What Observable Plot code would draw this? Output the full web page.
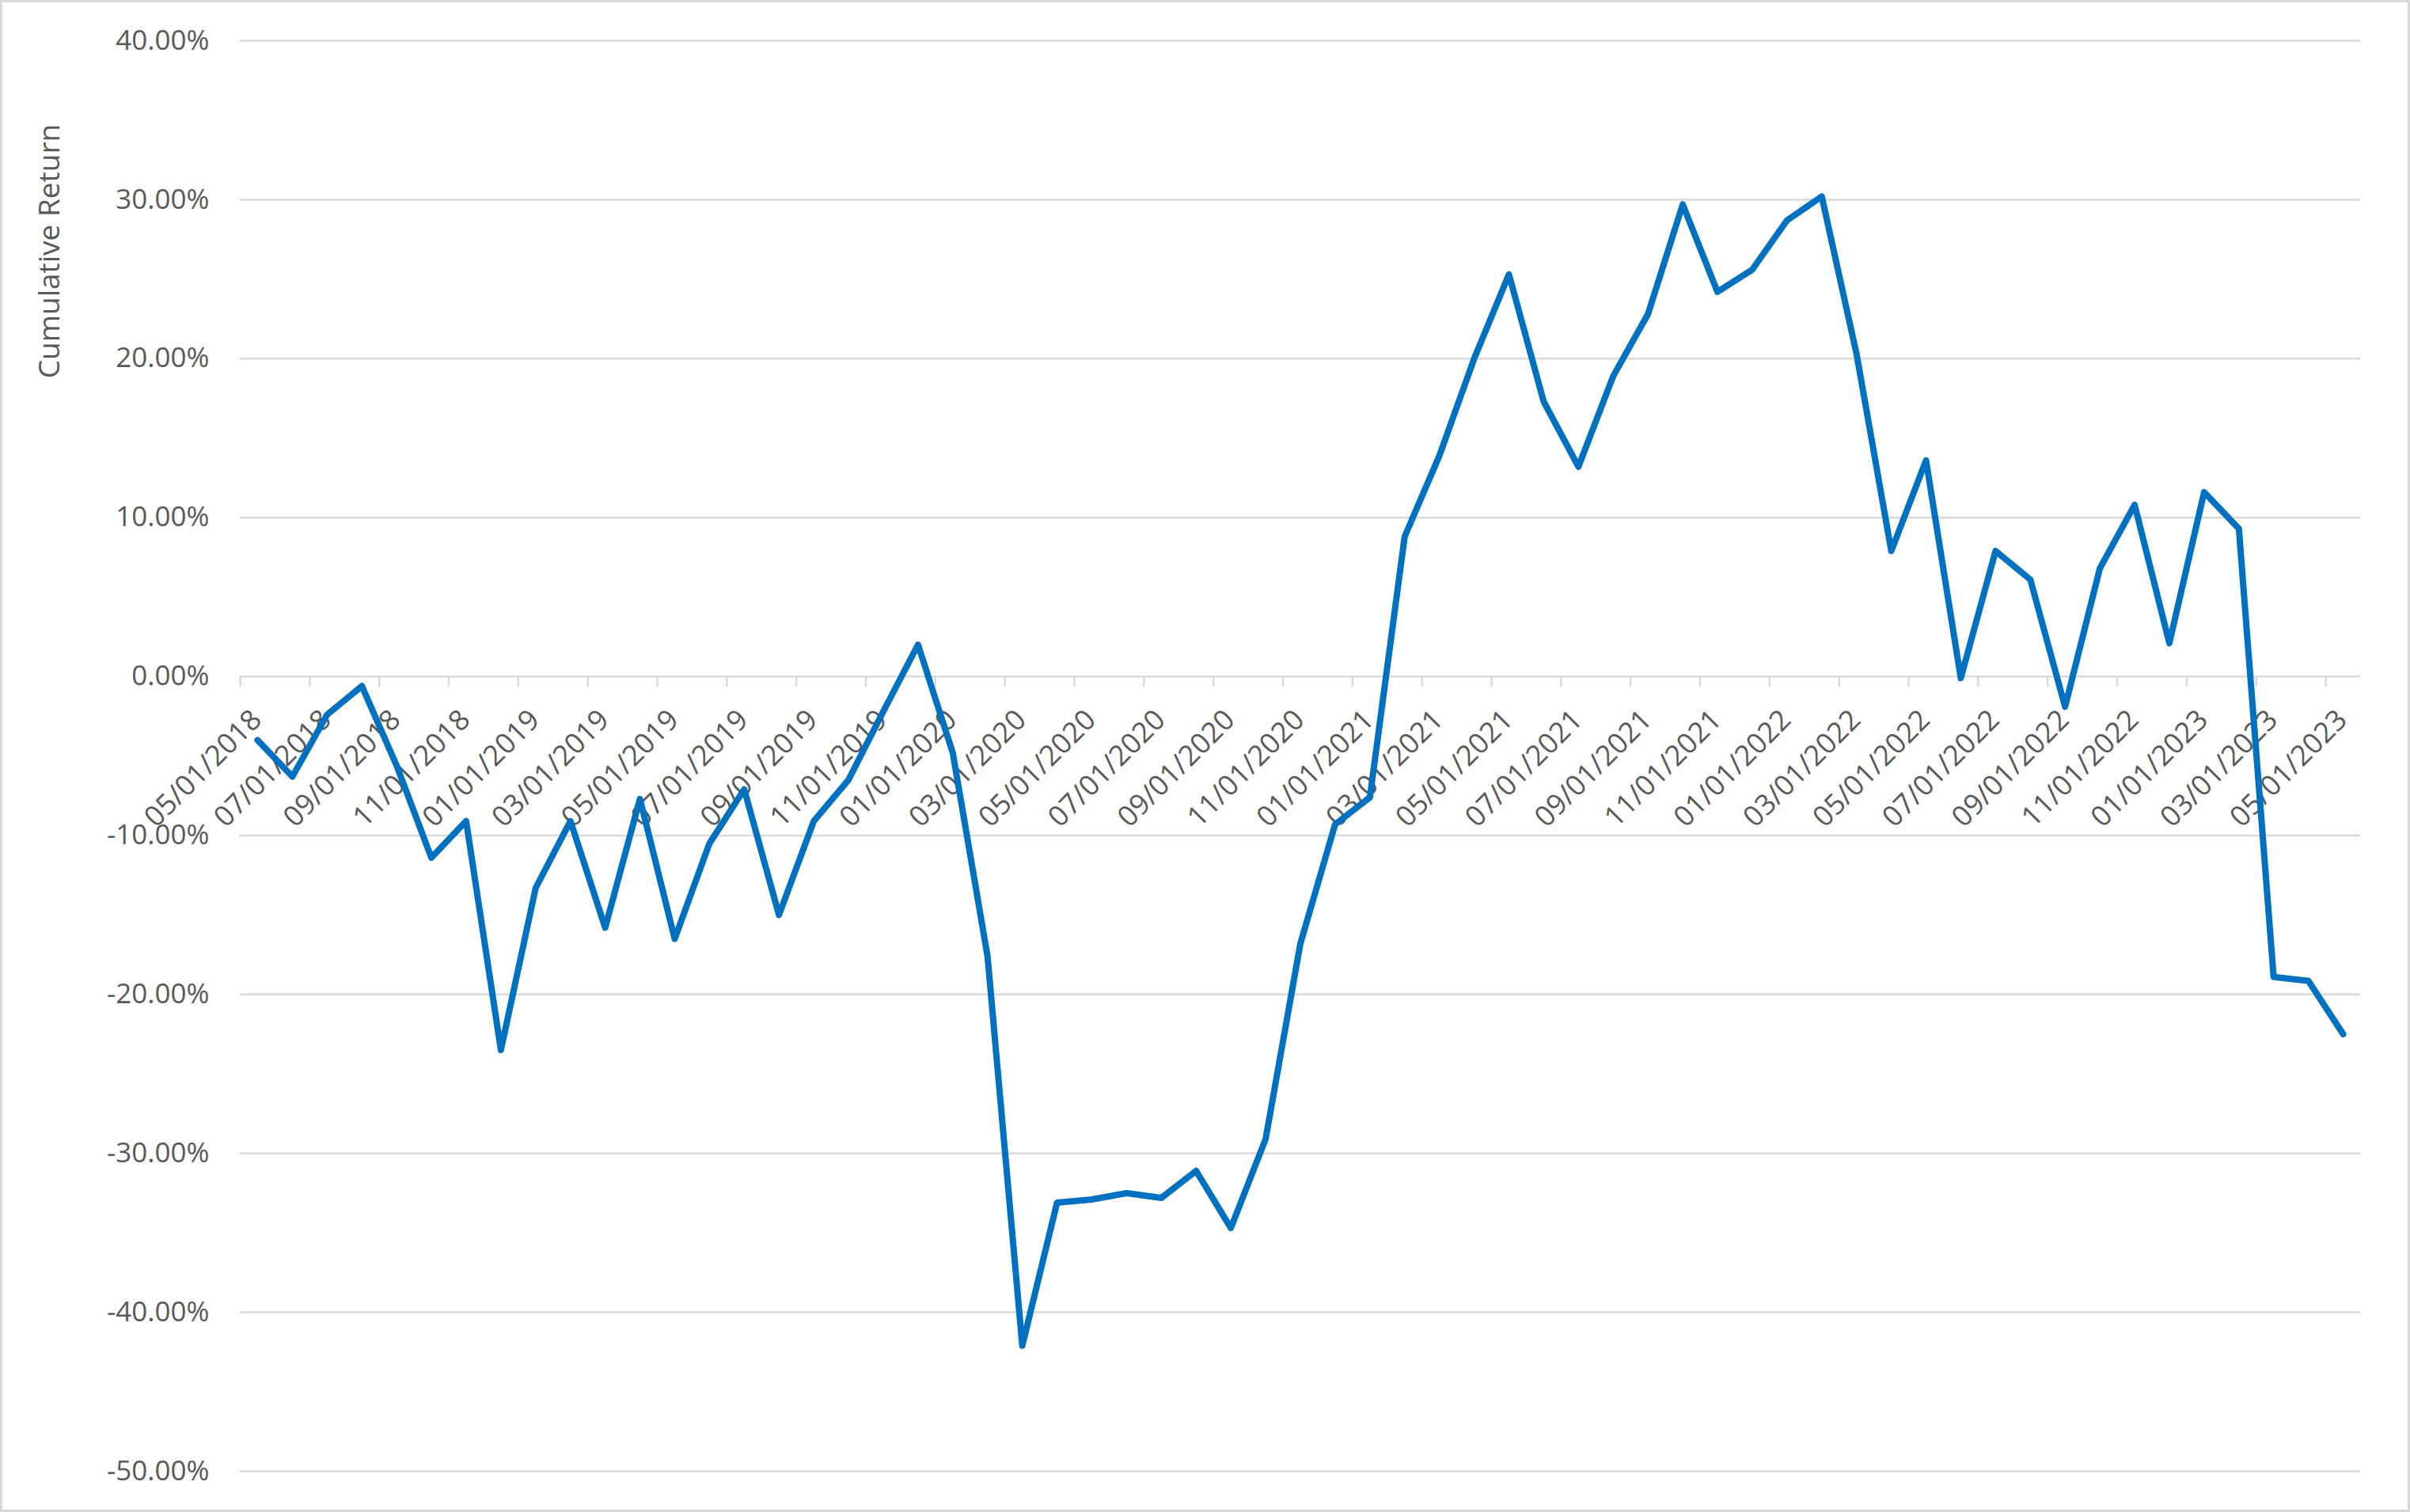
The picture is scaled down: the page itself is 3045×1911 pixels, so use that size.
<!DOCTYPE html>
<html>
<head>
<meta charset="utf-8">
<script src="https://cdn.jsdelivr.net/npm/d3@7"></script>
<script src="https://cdn.jsdelivr.net/npm/@observablehq/plot@0.6"></script>
<style>
  html, body { margin: 0; padding: 0; background: #ffffff; }
  #wrap { position: relative; width: 3045px; height: 1911px; }
  #border { position: absolute; left: 0; top: 0; width: 3045px; height: 1911px; box-sizing: border-box; border: 3px solid #d9d9d9; pointer-events: none; }
</style>
</head>
<body>
<div id="wrap"><div id="chart"></div><div id="border"></div></div>
<script>
// Month labels (categories)
const months = [
  "05/01/2018","06/01/2018","07/01/2018","08/01/2018","09/01/2018","10/01/2018","11/01/2018","12/01/2018",
  "01/01/2019","02/01/2019","03/01/2019","04/01/2019","05/01/2019","06/01/2019","07/01/2019","08/01/2019",
  "09/01/2019","10/01/2019","11/01/2019","12/01/2019",
  "01/01/2020","02/01/2020","03/01/2020","04/01/2020","05/01/2020","06/01/2020","07/01/2020","08/01/2020",
  "09/01/2020","10/01/2020","11/01/2020","12/01/2020",
  "01/01/2021","02/01/2021","03/01/2021","04/01/2021","05/01/2021","06/01/2021","07/01/2021","08/01/2021",
  "09/01/2021","10/01/2021","11/01/2021","12/01/2021",
  "01/01/2022","02/01/2022","03/01/2022","04/01/2022","05/01/2022","06/01/2022","07/01/2022","08/01/2022",
  "09/01/2022","10/01/2022","11/01/2022","12/01/2022",
  "01/01/2023","02/01/2023","03/01/2023","04/01/2023","05/01/2023"
];

// Cumulative return, in percent
const cumulativeReturn = [
  -4.0, -6.3, -2.4, -0.6, -5.6, -11.4, -9.1, -23.5,
  -13.3, -9.1, -15.8, -7.7, -16.5, -10.5, -7.1, -15.0,
  -9.1, -6.5, -2.2, 2.0,
  -4.8, -17.6, -42.1, -33.1, -32.9, -32.5, -32.8, -31.1,
  -34.7, -29.1, -16.8, -9.3,
  -7.6, 8.8, 13.9, 20.0, 25.3, 17.3, 13.2, 18.9,
  22.8, 29.7, 24.2, 25.6,
  28.7, 30.2, 20.3, 7.9, 13.6, -0.1, 7.9, 6.1,
  -1.9, 6.8, 10.8, 2.1,
  11.6, 9.3, -18.9, -19.15, -22.5
];

// Y axis ticks (fractions)
const yTicks = [0.4, 0.3, 0.2, 0.1, 0.0, -0.1, -0.2, -0.3, -0.4, -0.5];
const yTitle = "Cumulative Return";

const data = cumulativeReturn.map((v, i) => ({i, v: v / 100, label: months[i]}));
const labelData = data.filter(d => d.i % 2 === 0);
const fmtPct = d => (d * 100).toFixed(2) + "%";
const tickLen = 0.0065; // short tick marks below the 0% axis line

const chart = Plot.plot({
  width: 3045,
  height: 1911,
  marginLeft: 303,
  marginRight: 63,
  marginTop: 51,
  marginBottom: 52,
  x: {domain: [-0.5, months.length - 0.5], axis: null},
  y: {domain: [-0.5, 0.4], axis: null},
  style: {fontFamily: "'Open Sans', sans-serif", background: "#ffffff", overflow: "visible"},
  marks: [
    Plot.ruleY(yTicks, {y: d => d, stroke: "#d9d9d9", strokeWidth: 2.5}),
    Plot.ruleX(labelData, {x: d => d.i - 0.5, y1: () => 0, y2: () => -tickLen, stroke: "#d9d9d9", strokeWidth: 2.5}),
    Plot.text(yTicks, {y: d => d, frameAnchor: "left", textAnchor: "end", dx: -39, text: fmtPct, fontSize: 35, fill: "#595959"}),
    Plot.text(labelData, {x: "i", y: () => 0, text: "label", rotate: -45, textAnchor: "end", lineAnchor: "bottom", dx: 7, dy: 57, fontSize: 36, fill: "#595959"}),
    Plot.text([yTitle], {frameAnchor: "top-left", text: d => d, rotate: -90, textAnchor: "middle", lineAnchor: "middle", dx: -240, dy: 266, fontSize: 37, fill: "#595959"}),
    Plot.line(data, {x: "i", y: "v", stroke: "#0070c0", strokeWidth: 8, strokeLinejoin: "round", strokeLinecap: "round"})
  ]
});
document.getElementById("chart").appendChild(chart);
</script>
</body>
</html>
